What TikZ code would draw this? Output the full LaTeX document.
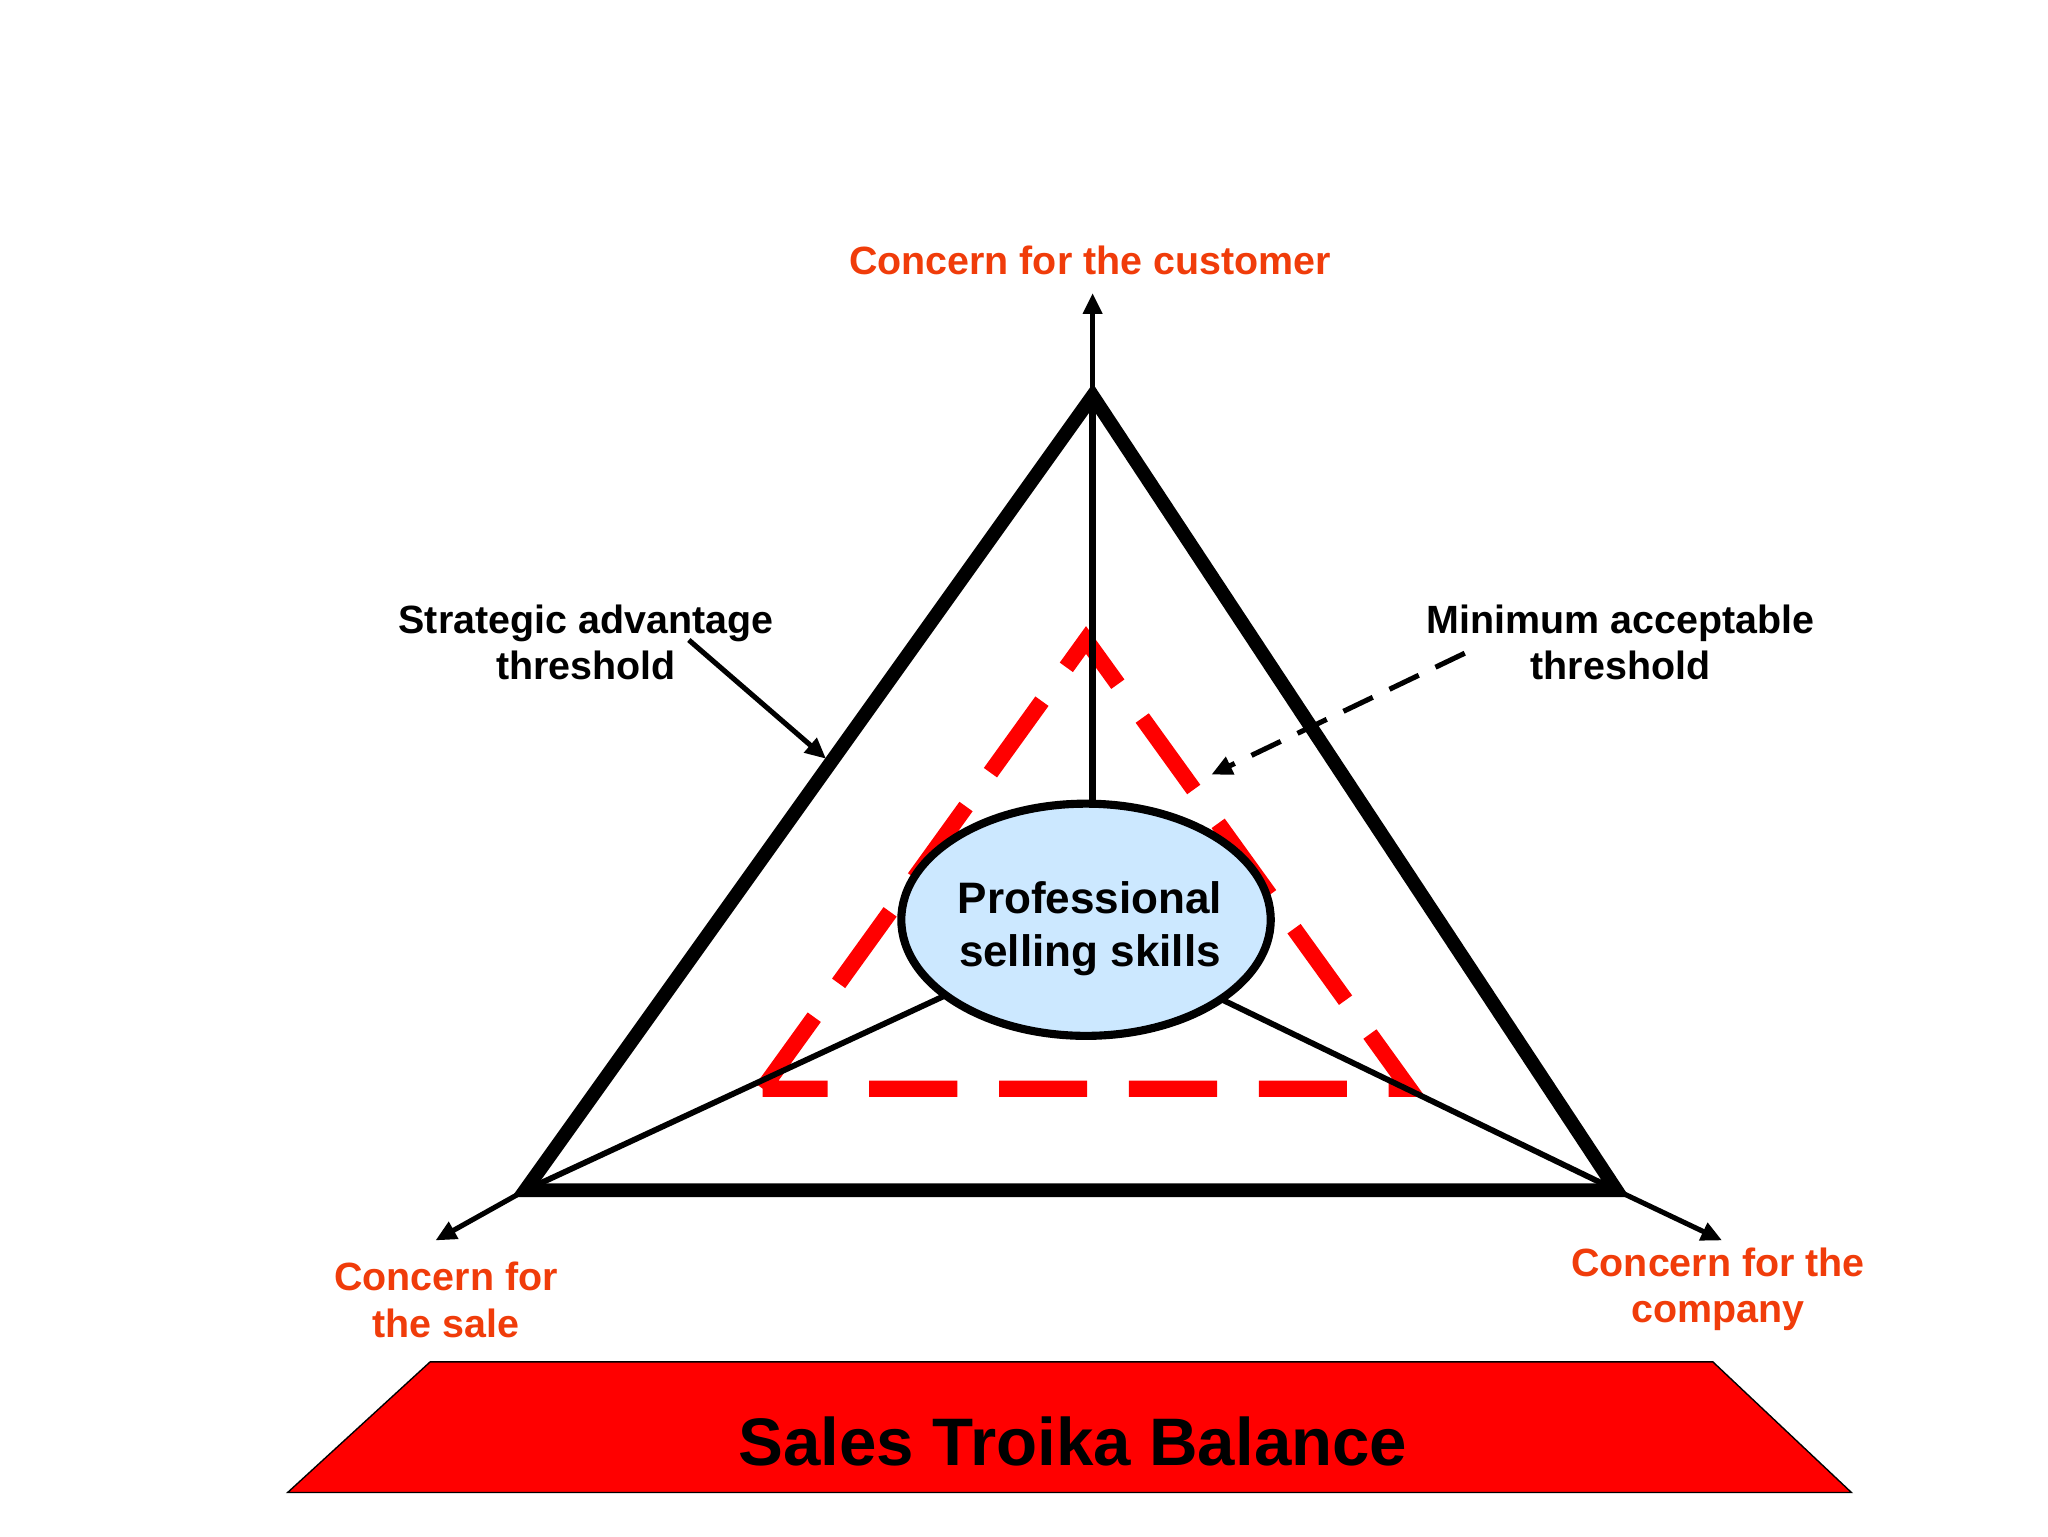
\documentclass[tikz,border=0pt]{standalone}
\usepackage{fontspec}
\setmainfont{Liberation Sans}
\usetikzlibrary{arrows.meta,shapes.geometric}
\definecolor{lab}{RGB}{240,60,10}
\definecolor{skyfill}{RGB}{204,232,255}
\begin{document}
\begin{tikzpicture}[x=0.02cm,y=-0.02cm,
  lbl/.style={font=\bfseries\fontsize{17}{20}\selectfont,align=center},
  rlbl/.style={lbl,text=lab},
  thin arrow/.style={line width=2.2pt,-{Triangle[length=9pt,width=8pt]}}]
\useasboundingbox (0,0) rectangle (1552,1164);
% trapezoid
\fill[red,draw=black,line width=0.6pt] (218,1131) -- (326,1032) -- (1298,1032) -- (1403,1131) -- cycle;
\node[font=\bfseries\fontsize{29}{34}\selectfont] (title) at (813,1092) {Sales Troika Balance};
% coordinates
\coordinate (A) at (828,300);
\coordinate (L) at (398,902);
\coordinate (R) at (1225,902);
\coordinate (Atip) at (828,222);
\coordinate (Ltip) at (330,940);
\coordinate (Rtip) at (1305,940);
% red dashed triangle
\draw[red,line width=7pt,dash pattern=on 38pt off 18pt] (578,825) -- (823,485) -- (1068,825) -- cycle;
% main triangle
\draw[line width=6pt,line join=miter] (A) -- (L) -- (R) -- cycle;
% ellipse
\node[draw=black,line width=3.5pt,fill=skyfill,ellipse,minimum width=5.6cm,minimum height=3.52cm,inner sep=0pt] (E) at (823,697) {};
\draw[line width=3pt] (A) -- (E.north -| A);
\draw[line width=2.5pt] (715,755) -- (L);
\draw[line width=2.5pt] (925,757) -- (R);
\draw[thin arrow] (A) -- (Atip);
\draw[thin arrow] (L) -- (Ltip);
\draw[thin arrow] (R) -- (Rtip);
\node[lbl,font=\bfseries\fontsize{19}{23}\selectfont] (ps) at (826,704) {Professional\\selling skills};
% labels
\node[rlbl] (cc) at (826,197) {Concern for the customer};
\node[rlbl] (cs) at (338,985) {Concern for\\the sale};
\node[rlbl] (cco) at (1302,977) {Concern for the\\company};
\node[lbl] (sat) at (444,487) {Strategic advantage\\threshold};
\node[lbl] (mat) at (1228,487) {Minimum acceptable\\threshold};
\coordinate (s1) at (522,485); \coordinate (s2) at (626,575);
\coordinate (m1) at (1110,495); \coordinate (m2) at (918,587);
\draw[thin arrow] (s1) -- (s2);
\draw[thin arrow,dash pattern=on 14pt off 8pt] (m1) -- (m2);
\end{tikzpicture}
\end{document}
